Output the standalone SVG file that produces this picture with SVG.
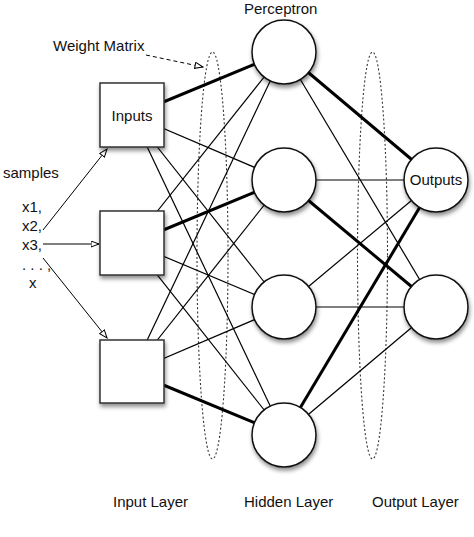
<svg xmlns="http://www.w3.org/2000/svg" width="474" height="537" viewBox="0 0 474 537">
<style>
text{font-family:"Liberation Sans",Arial,Helvetica,sans-serif;font-size:15px;fill:#111}
.c{stroke:#000;stroke-width:1.2;fill:none}
.t{stroke:#000;stroke-width:3;fill:none}
.box{fill:#fff;stroke:#333;stroke-width:1.5}
.circ{fill:#fff;stroke:#111;stroke-width:1.5}
.dot{fill:none;stroke:#333;stroke-width:1.1;stroke-dasharray:2,2.2}
.arr{stroke:#000;stroke-width:1;fill:none;marker-end:url(#oa)}
</style>
<defs>
<filter id="sh" x="-30%" y="-30%" width="160%" height="170%">
<feDropShadow dx="1" dy="3" stdDeviation="2" flood-color="#000" flood-opacity="0.45"/>
</filter>
<marker id="oa" markerUnits="userSpaceOnUse" markerWidth="10" markerHeight="8" refX="8.5" refY="3.5" orient="auto">
<path d="M0.5,0.5 L8.5,3.5 L0.5,6.5 z" fill="#fff" stroke="#000" stroke-width="1"/>
</marker>
</defs>
<rect width="474" height="537" fill="#fff"/>

<g id="weight-ellipses">
<ellipse class="dot" cx="212.5" cy="255.5" rx="15.5" ry="203.5"/>
<ellipse class="dot" cx="372.5" cy="255.5" rx="15" ry="203.5"/>
</g>

<g id="connectors">
<line class="t" x1="132" y1="115" x2="284" y2="52"/>
<line class="c" x1="132" y1="115" x2="284" y2="180"/>
<line class="c" x1="132" y1="115" x2="284" y2="307"/>
<line class="c" x1="132" y1="115" x2="284" y2="435"/>
<line class="c" x1="132" y1="243" x2="284" y2="52"/>
<line class="t" x1="132" y1="243" x2="284" y2="180"/>
<line class="c" x1="132" y1="243" x2="284" y2="307"/>
<line class="c" x1="132" y1="243" x2="284" y2="435"/>
<line class="c" x1="132" y1="372" x2="284" y2="52"/>
<line class="c" x1="132" y1="372" x2="284" y2="180"/>
<line class="c" x1="132" y1="372" x2="284" y2="307"/>
<line class="t" x1="132" y1="372" x2="284" y2="435"/>
<line class="t" x1="284" y1="52" x2="436" y2="180"/>
<line class="c" x1="284" y1="52" x2="436" y2="307"/>
<line class="c" x1="284" y1="180" x2="436" y2="180"/>
<line class="t" x1="284" y1="180" x2="436" y2="307"/>
<line class="c" x1="284" y1="307" x2="436" y2="180"/>
<line class="c" x1="284" y1="307" x2="436" y2="307"/>
<line class="t" x1="284" y1="435" x2="436" y2="180"/>
<line class="c" x1="284" y1="435" x2="436" y2="307"/>
<line class="arr" x1="43" y1="230" x2="107" y2="149"/>
<line class="arr" x1="43" y1="244" x2="99" y2="244"/>
<line class="arr" x1="43" y1="258" x2="107" y2="338"/>
<line class="arr" x1="146" y1="55" x2="203" y2="67" stroke-dasharray="4,3"/>
</g>

<g id="input1"><rect class="box" x="100" y="83" width="64" height="64" filter="url(#sh)"/><text x="132" y="121" text-anchor="middle">Inputs</text></g>
<g id="input2"><rect class="box" x="100" y="211" width="64" height="64" filter="url(#sh)"/></g>
<g id="input3"><rect class="box" x="100" y="340" width="64" height="63" filter="url(#sh)"/></g>

<g id="hidden1"><circle class="circ" cx="284" cy="52" r="32" filter="url(#sh)"/></g>
<g id="hidden2"><circle class="circ" cx="284" cy="180" r="32" filter="url(#sh)"/></g>
<g id="hidden3"><circle class="circ" cx="284" cy="307" r="32" filter="url(#sh)"/></g>
<g id="hidden4"><circle class="circ" cx="284" cy="435" r="32" filter="url(#sh)"/></g>

<g id="output1"><circle class="circ" cx="436" cy="180" r="32" filter="url(#sh)"/><text x="436" y="185" text-anchor="middle">Outputs</text></g>
<g id="output2"><circle class="circ" cx="436" cy="307" r="32" filter="url(#sh)"/></g>

<g id="labels">
<text x="244" y="14">Perceptron</text>
<text x="53" y="51">Weight Matrix</text>
<text x="3" y="178">samples</text>
<text x="22" y="212">x1,</text>
<text x="22" y="231">x2,</text>
<text x="22" y="250">x3,</text>
<text x="22" y="270">. . . ,</text>
<text x="29" y="288">x</text>
<text x="113" y="507">Input Layer</text>
<text x="244" y="507">Hidden Layer</text>
<text x="372" y="507">Output Layer</text>
</g>
</svg>
